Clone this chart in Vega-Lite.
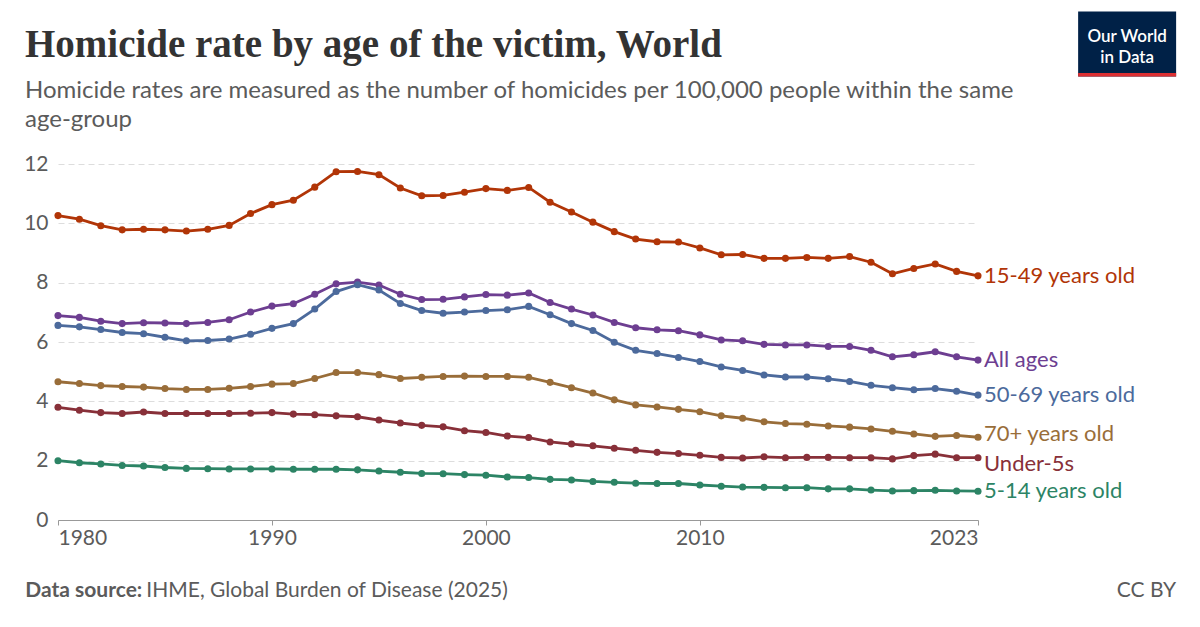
{
  "$schema": "https://vega.github.io/schema/vega-lite/v6.json",
  "autosize": "none",
  "width": 920,
  "height": 356,
  "padding": {"left": 58, "top": 164, "right": 222, "bottom": 107},
  "background": "#ffffff",
  "config": {
    "font": "Lato",
    "view": {"stroke": null},
    "title": {
      "anchor": "start",
      "frame": "group",
      "font": "Liberation Serif",
      "fontSize": 39,
      "fontWeight": "bold",
      "color": "#333333",
      "subtitleFont": "Lato",
      "subtitleFontSize": 24,
      "subtitleColor": "#5b5b5b",
      "subtitleLineHeight": 29,
      "subtitlePadding": 14,
      "dx": -33,
      "dy": 124,
      "offset": 0
    }
  },
  "title": {
    "text": "Homicide rate by age of the victim, World",
    "subtitle": [
      "Homicide rates are measured as the number of homicides per 100,000 people within the same",
      "age-group"
    ]
  },
  "datasets": {
    "rates": [
      {"year": 1980, "15-49 years old": 10.26, "All ages": 6.89, "50-69 years old": 6.56, "70+ years old": 4.66, "Under-5s": 3.80, "5-14 years old": 2.00},
      {"year": 1981, "15-49 years old": 10.14, "All ages": 6.83, "50-69 years old": 6.51, "70+ years old": 4.60, "Under-5s": 3.70, "5-14 years old": 1.93},
      {"year": 1982, "15-49 years old": 9.92, "All ages": 6.70, "50-69 years old": 6.42, "70+ years old": 4.53, "Under-5s": 3.62, "5-14 years old": 1.89},
      {"year": 1983, "15-49 years old": 9.78, "All ages": 6.62, "50-69 years old": 6.32, "70+ years old": 4.50, "Under-5s": 3.59, "5-14 years old": 1.84},
      {"year": 1984, "15-49 years old": 9.80, "All ages": 6.65, "50-69 years old": 6.28, "70+ years old": 4.48, "Under-5s": 3.64, "5-14 years old": 1.82},
      {"year": 1985, "15-49 years old": 9.78, "All ages": 6.64, "50-69 years old": 6.16, "70+ years old": 4.43, "Under-5s": 3.59, "5-14 years old": 1.77},
      {"year": 1986, "15-49 years old": 9.74, "All ages": 6.62, "50-69 years old": 6.04, "70+ years old": 4.40, "Under-5s": 3.59, "5-14 years old": 1.74},
      {"year": 1987, "15-49 years old": 9.80, "All ages": 6.66, "50-69 years old": 6.05, "70+ years old": 4.40, "Under-5s": 3.59, "5-14 years old": 1.73},
      {"year": 1988, "15-49 years old": 9.93, "All ages": 6.75, "50-69 years old": 6.10, "70+ years old": 4.44, "Under-5s": 3.59, "5-14 years old": 1.72},
      {"year": 1989, "15-49 years old": 10.33, "All ages": 7.01, "50-69 years old": 6.26, "70+ years old": 4.50, "Under-5s": 3.60, "5-14 years old": 1.72},
      {"year": 1990, "15-49 years old": 10.63, "All ages": 7.21, "50-69 years old": 6.46, "70+ years old": 4.58, "Under-5s": 3.62, "5-14 years old": 1.72},
      {"year": 1991, "15-49 years old": 10.78, "All ages": 7.29, "50-69 years old": 6.62, "70+ years old": 4.60, "Under-5s": 3.57, "5-14 years old": 1.71},
      {"year": 1992, "15-49 years old": 11.22, "All ages": 7.61, "50-69 years old": 7.11, "70+ years old": 4.77, "Under-5s": 3.55, "5-14 years old": 1.71},
      {"year": 1993, "15-49 years old": 11.74, "All ages": 7.96, "50-69 years old": 7.70, "70+ years old": 4.97, "Under-5s": 3.51, "5-14 years old": 1.71},
      {"year": 1994, "15-49 years old": 11.75, "All ages": 8.02, "50-69 years old": 7.93, "70+ years old": 4.97, "Under-5s": 3.48, "5-14 years old": 1.69},
      {"year": 1995, "15-49 years old": 11.64, "All ages": 7.92, "50-69 years old": 7.75, "70+ years old": 4.90, "Under-5s": 3.37, "5-14 years old": 1.65},
      {"year": 1996, "15-49 years old": 11.19, "All ages": 7.61, "50-69 years old": 7.30, "70+ years old": 4.77, "Under-5s": 3.27, "5-14 years old": 1.61},
      {"year": 1997, "15-49 years old": 10.93, "All ages": 7.43, "50-69 years old": 7.06, "70+ years old": 4.81, "Under-5s": 3.19, "5-14 years old": 1.57},
      {"year": 1998, "15-49 years old": 10.94, "All ages": 7.44, "50-69 years old": 6.97, "70+ years old": 4.84, "Under-5s": 3.14, "5-14 years old": 1.56},
      {"year": 1999, "15-49 years old": 11.05, "All ages": 7.52, "50-69 years old": 7.01, "70+ years old": 4.85, "Under-5s": 3.01, "5-14 years old": 1.53},
      {"year": 2000, "15-49 years old": 11.17, "All ages": 7.60, "50-69 years old": 7.06, "70+ years old": 4.84, "Under-5s": 2.95, "5-14 years old": 1.51},
      {"year": 2001, "15-49 years old": 11.11, "All ages": 7.58, "50-69 years old": 7.09, "70+ years old": 4.84, "Under-5s": 2.83, "5-14 years old": 1.45},
      {"year": 2002, "15-49 years old": 11.21, "All ages": 7.65, "50-69 years old": 7.20, "70+ years old": 4.81, "Under-5s": 2.78, "5-14 years old": 1.43},
      {"year": 2003, "15-49 years old": 10.71, "All ages": 7.33, "50-69 years old": 6.92, "70+ years old": 4.64, "Under-5s": 2.63, "5-14 years old": 1.37},
      {"year": 2004, "15-49 years old": 10.38, "All ages": 7.11, "50-69 years old": 6.62, "70+ years old": 4.46, "Under-5s": 2.56, "5-14 years old": 1.35},
      {"year": 2005, "15-49 years old": 10.04, "All ages": 6.91, "50-69 years old": 6.39, "70+ years old": 4.28, "Under-5s": 2.50, "5-14 years old": 1.30},
      {"year": 2006, "15-49 years old": 9.72, "All ages": 6.66, "50-69 years old": 5.99, "70+ years old": 4.05, "Under-5s": 2.42, "5-14 years old": 1.27},
      {"year": 2007, "15-49 years old": 9.47, "All ages": 6.48, "50-69 years old": 5.72, "70+ years old": 3.88, "Under-5s": 2.35, "5-14 years old": 1.24},
      {"year": 2008, "15-49 years old": 9.38, "All ages": 6.41, "50-69 years old": 5.61, "70+ years old": 3.81, "Under-5s": 2.28, "5-14 years old": 1.23},
      {"year": 2009, "15-49 years old": 9.37, "All ages": 6.38, "50-69 years old": 5.48, "70+ years old": 3.73, "Under-5s": 2.24, "5-14 years old": 1.23},
      {"year": 2010, "15-49 years old": 9.17, "All ages": 6.24, "50-69 years old": 5.34, "70+ years old": 3.65, "Under-5s": 2.18, "5-14 years old": 1.18},
      {"year": 2011, "15-49 years old": 8.94, "All ages": 6.07, "50-69 years old": 5.16, "70+ years old": 3.51, "Under-5s": 2.11, "5-14 years old": 1.14},
      {"year": 2012, "15-49 years old": 8.95, "All ages": 6.04, "50-69 years old": 5.04, "70+ years old": 3.43, "Under-5s": 2.09, "5-14 years old": 1.11},
      {"year": 2013, "15-49 years old": 8.82, "All ages": 5.92, "50-69 years old": 4.89, "70+ years old": 3.31, "Under-5s": 2.13, "5-14 years old": 1.10},
      {"year": 2014, "15-49 years old": 8.82, "All ages": 5.90, "50-69 years old": 4.82, "70+ years old": 3.25, "Under-5s": 2.10, "5-14 years old": 1.09},
      {"year": 2015, "15-49 years old": 8.85, "All ages": 5.90, "50-69 years old": 4.82, "70+ years old": 3.23, "Under-5s": 2.11, "5-14 years old": 1.09},
      {"year": 2016, "15-49 years old": 8.82, "All ages": 5.85, "50-69 years old": 4.76, "70+ years old": 3.17, "Under-5s": 2.11, "5-14 years old": 1.05},
      {"year": 2017, "15-49 years old": 8.88, "All ages": 5.85, "50-69 years old": 4.67, "70+ years old": 3.13, "Under-5s": 2.10, "5-14 years old": 1.05},
      {"year": 2018, "15-49 years old": 8.69, "All ages": 5.72, "50-69 years old": 4.54, "70+ years old": 3.07, "Under-5s": 2.10, "5-14 years old": 1.01},
      {"year": 2019, "15-49 years old": 8.30, "All ages": 5.50, "50-69 years old": 4.46, "70+ years old": 2.99, "Under-5s": 2.06, "5-14 years old": 0.98},
      {"year": 2020, "15-49 years old": 8.48, "All ages": 5.57, "50-69 years old": 4.39, "70+ years old": 2.90, "Under-5s": 2.17, "5-14 years old": 0.99},
      {"year": 2021, "15-49 years old": 8.63, "All ages": 5.67, "50-69 years old": 4.43, "70+ years old": 2.82, "Under-5s": 2.22, "5-14 years old": 1.00},
      {"year": 2022, "15-49 years old": 8.38, "All ages": 5.50, "50-69 years old": 4.34, "70+ years old": 2.85, "Under-5s": 2.10, "5-14 years old": 0.98},
      {"year": 2023, "15-49 years old": 8.23, "All ages": 5.39, "50-69 years old": 4.21, "70+ years old": 2.79, "Under-5s": 2.10, "5-14 years old": 0.97}
    ],
    "notes": [
      {"part": "source-label", "note": "Data source:"},
      {"part": "source", "note": "IHME, Global Burden of Disease (2025)"},
      {"part": "license", "note": "CC BY"},
      {"part": "logo-1", "note": "Our World"},
      {"part": "logo-2", "note": "in Data"}
    ]
  },
  "layer": [
    {
      "data": {"name": "rates"},
      "transform": [
        {"fold": ["15-49 years old", "All ages", "50-69 years old", "70+ years old", "Under-5s", "5-14 years old"], "as": ["group", "rate"]}
      ],
      "encoding": {
        "x": {
          "field": "year",
          "type": "quantitative",
          "scale": {"domain": [1980, 2023], "nice": false, "zero": false},
          "axis": {
            "title": null,
            "values": [1980, 1990, 2000, 2010, 2023],
            "format": "d",
            "labelFlush": true,
            "grid": false,
            "domainColor": "#999999",
            "tickColor": "#999999",
            "tickSize": 5,
            "labelFontSize": 21,
            "labelColor": "#5b5b5b",
            "labelPadding": 2
          }
        },
        "y": {
          "field": "rate",
          "type": "quantitative",
          "scale": {"domain": [0, 12], "nice": false},
          "axis": {
            "title": null,
            "values": [0, 2, 4, 6, 8, 10, 12],
            "domain": false,
            "ticks": false,
            "gridColor": "#dddddd",
            "gridDash": [6, 4],
            "labelFontSize": 21,
            "labelColor": "#5b5b5b",
            "labelPadding": 10
          }
        },
        "color": {
          "field": "group",
          "type": "nominal",
          "scale": {
            "domain": ["15-49 years old", "All ages", "50-69 years old", "70+ years old", "Under-5s", "5-14 years old"],
            "range": ["#b13507", "#6d3e91", "#4c6a9c", "#996d39", "#883039", "#2c8465"]
          },
          "legend": null
        }
      },
      "layer": [
        {"mark": {"type": "line", "strokeWidth": 2.8}, "encoding": {"detail": {"field": "group"}}},
        {"mark": {"type": "circle", "size": 50, "opacity": 1}},
        {
          "transform": [{"filter": "datum.year === 2023 && datum.group !== '70+ years old' && datum.group !== 'Under-5s'"}],
          "mark": {"type": "text", "align": "left", "dx": 6, "fontSize": 22, "baseline": "middle"},
          "encoding": {"text": {"field": "group"}}
        },
        {
          "transform": [{"filter": "datum.year === 2023 && datum.group === '70+ years old'"}],
          "mark": {"type": "text", "align": "left", "dx": 6, "dy": -3, "fontSize": 22, "baseline": "middle"},
          "encoding": {"text": {"field": "group"}}
        },
        {
          "transform": [{"filter": "datum.year === 2023 && datum.group === 'Under-5s'"}],
          "mark": {"type": "text", "align": "left", "dx": 6, "dy": 6, "fontSize": 22, "baseline": "middle"},
          "encoding": {"text": {"field": "group"}}
        }
      ]
    },
    {
      "data": {"name": "notes"},
      "transform": [{"filter": "datum.part === 'source-label'"}],
      "mark": {"type": "text", "align": "left", "baseline": "middle", "fontSize": 21, "fontWeight": "bold", "color": "#5b5b5b"},
      "encoding": {
        "x": {"datum": 1978.47, "type": "quantitative"},
        "y": {"datum": -2.4, "type": "quantitative"},
        "text": {"field": "note"}
      }
    },
    {
      "data": {"name": "notes"},
      "transform": [{"filter": "datum.part === 'source'"}],
      "mark": {"type": "text", "align": "left", "baseline": "middle", "fontSize": 21, "color": "#5b5b5b"},
      "encoding": {
        "x": {"datum": 1984.13, "type": "quantitative"},
        "y": {"datum": -2.4, "type": "quantitative"},
        "text": {"field": "note"}
      }
    },
    {
      "data": {"name": "notes"},
      "transform": [{"filter": "datum.part === 'license'"}],
      "mark": {"type": "text", "align": "right", "baseline": "middle", "fontSize": 21, "color": "#5b5b5b"},
      "encoding": {
        "x": {"datum": 2032.26, "type": "quantitative"},
        "y": {"datum": -2.4, "type": "quantitative"},
        "text": {"field": "note"}
      }
    },
    {
      "data": {"name": "notes"},
      "transform": [{"filter": "datum.part === 'logo-1'"}],
      "mark": {"type": "rect", "color": "#002147"},
      "encoding": {
        "x": {"datum": 2027.68, "type": "quantitative"},
        "x2": {"datum": 2032.26},
        "y": {"datum": 17.14, "type": "quantitative"},
        "y2": {"datum": 14.95}
      }
    },
    {
      "data": {"name": "notes"},
      "transform": [{"filter": "datum.part === 'logo-1'"}],
      "mark": {"type": "rect", "color": "#dc2f32"},
      "encoding": {
        "x": {"datum": 2027.68, "type": "quantitative"},
        "x2": {"datum": 2032.26},
        "y": {"datum": 15.07, "type": "quantitative"},
        "y2": {"datum": 14.95}
      }
    },
    {
      "data": {"name": "notes"},
      "transform": [{"filter": "datum.part === 'logo-1'"}],
      "mark": {"type": "text", "align": "center", "baseline": "middle", "fontSize": 17, "fontWeight": 600, "color": "#ffffff"},
      "encoding": {
        "x": {"datum": 2029.97, "type": "quantitative"},
        "y": {"datum": 16.27, "type": "quantitative"},
        "text": {"field": "note"}
      }
    },
    {
      "data": {"name": "notes"},
      "transform": [{"filter": "datum.part === 'logo-2'"}],
      "mark": {"type": "text", "align": "center", "baseline": "middle", "fontSize": 17, "fontWeight": 600, "color": "#ffffff"},
      "encoding": {
        "x": {"datum": 2029.97, "type": "quantitative"},
        "y": {"datum": 15.56, "type": "quantitative"},
        "text": {"field": "note"}
      }
    }
  ]
}
